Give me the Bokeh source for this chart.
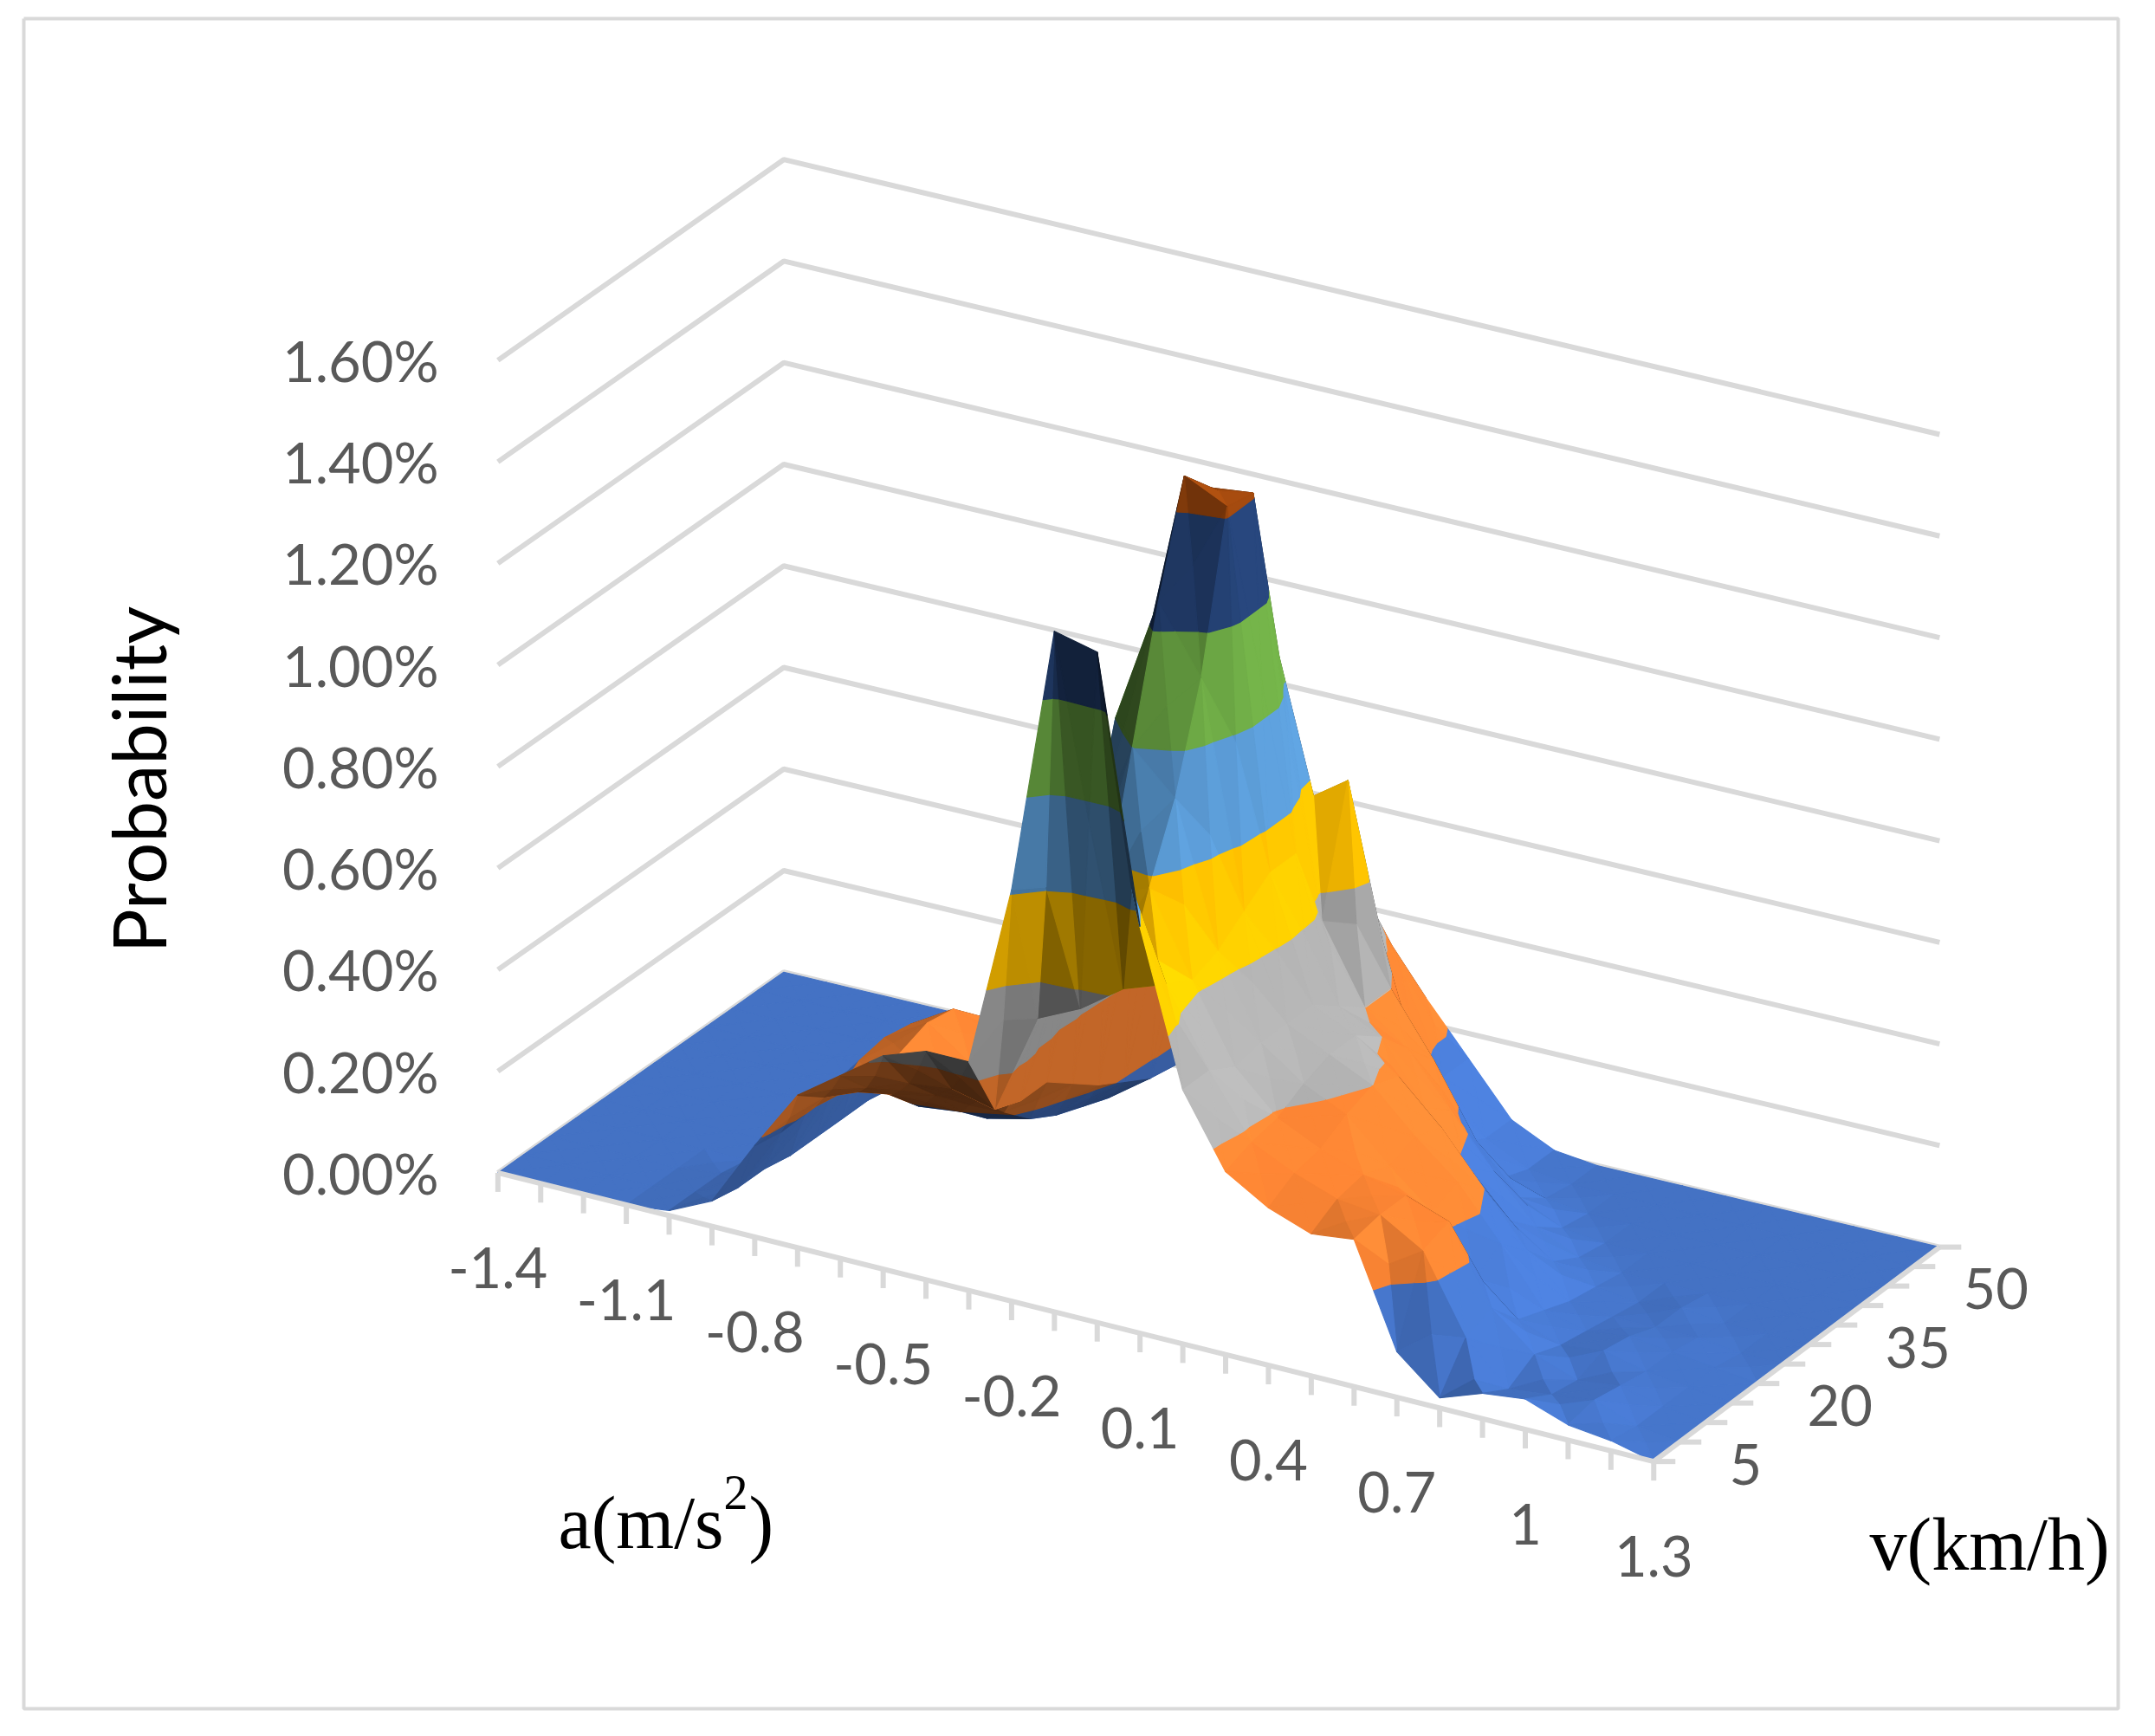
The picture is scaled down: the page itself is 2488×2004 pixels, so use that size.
import math
from bokeh.plotting import figure
from bokeh.models import Range1d, ColumnDataSource
from bokeh.embed import file_html
from bokeh.resources import INLINE
from bokeh.core.properties import value

# ---------------- data ----------------
a_labels = ["-1.4", "-1.3", "-1.2", "-1.1", "-1", "-0.9", "-0.8", "-0.7", "-0.6", "-0.5",
            "-0.4", "-0.3", "-0.2", "-0.1", "0", "0.1", "0.2", "0.3", "0.4", "0.5",
            "0.6", "0.7", "0.8", "0.9", "1", "1.1", "1.2", "1.3"]
v_labels = ["5", "10", "15", "20", "25", "30", "35", "40", "45", "50", "55", "60"]
z_labels = ["0.00%", "0.20%", "0.40%", "0.60%", "0.80%", "1.00%", "1.20%", "1.40%", "1.60%"]
z_ticks = [0.0, 0.2, 0.4, 0.6, 0.8, 1.0, 1.2, 1.4, 1.6]

# probability in % for each speed bin (rows) and acceleration bin (columns)
p_v5  = [0.00, 0.00, 0.00, 0.00, 0.01, 0.05, 0.18, 0.30, 0.36, 0.42, 0.45, 0.45, 0.81, 1.34, 1.32, 0.80, 0.50, 0.36, 0.31, 0.28, 0.29, 0.09, 0.02, 0.05, 0.06, 0.03, 0.02, 0.00]
p_v10 = [0.00, 0.00, 0.00, 0.00, 0.01, 0.04, 0.17, 0.26, 0.30, 0.33, 0.34, 0.32, 0.52, 0.56, 0.62, 0.65, 0.50, 0.38, 0.34, 0.31, 0.30, 0.25, 0.10, 0.02, 0.03, 0.04, 0.01, 0.00]
p_v15 = [0.00, 0.00, 0.00, 0.00, 0.01, 0.04, 0.18, 0.24, 0.25, 0.27, 0.28, 0.30, 0.60, 0.75, 0.78, 0.62, 0.47, 0.39, 0.35, 0.32, 0.30, 0.27, 0.12, 0.05, 0.02, 0.03, 0.01, 0.00]
p_v20 = [0.00, 0.00, 0.00, 0.00, 0.00, 0.03, 0.19, 0.22, 0.19, 0.20, 0.22, 0.30, 0.78, 1.00, 0.92, 0.64, 0.48, 0.42, 0.38, 0.30, 0.23, 0.12, 0.06, 0.03, 0.04, 0.02, 0.01, 0.00]
p_v25 = [0.00, 0.00, 0.00, 0.00, 0.00, 0.03, 0.20, 0.24, 0.17, 0.15, 0.17, 0.26, 1.00, 1.25, 1.12, 0.68, 0.48, 0.44, 0.40, 0.32, 0.25, 0.15, 0.04, 0.02, 0.03, 0.02, 0.01, 0.00]
p_v30 = [0.00, 0.00, 0.00, 0.00, 0.00, 0.03, 0.21, 0.26, 0.20, 0.16, 0.14, 0.22, 0.95, 1.46, 1.42, 0.72, 0.48, 0.44, 0.38, 0.30, 0.20, 0.10, 0.02, 0.01, 0.01, 0.01, 0.00, 0.00]
p_v35 = [0.00, 0.00, 0.00, 0.00, 0.00, 0.03, 0.20, 0.25, 0.22, 0.15, 0.12, 0.19, 0.85, 1.40, 1.41, 0.72, 0.44, 0.40, 0.28, 0.18, 0.10, 0.04, 0.01, 0.00, 0.01, 0.00, 0.00, 0.00]
p_v40 = [0.00, 0.00, 0.00, 0.00, 0.00, 0.02, 0.18, 0.20, 0.16, 0.10, 0.10, 0.16, 0.70, 1.00, 1.05, 0.55, 0.40, 0.34, 0.24, 0.14, 0.05, 0.01, 0.00, 0.00, 0.00, 0.00, 0.00, 0.00]
p_v45 = [0.00, 0.00, 0.00, 0.00, 0.00, 0.02, 0.10, 0.14, 0.12, 0.07, 0.10, 0.15, 0.50, 0.66, 0.68, 0.79, 0.40, 0.28, 0.14, 0.05, 0.01, 0.00, 0.00, 0.00, 0.00, 0.00, 0.00, 0.00]
p_v50 = [0.00, 0.00, 0.00, 0.00, 0.00, 0.01, 0.05, 0.08, 0.10, 0.10, 0.13, 0.20, 0.40, 0.55, 0.58, 0.45, 0.22, 0.08, 0.03, 0.01, 0.00, 0.00, 0.00, 0.00, 0.00, 0.00, 0.00, 0.00]
p_v55 = [0.00, 0.00, 0.00, 0.00, 0.00, 0.01, 0.03, 0.06, 0.09, 0.12, 0.14, 0.20, 0.34, 0.45, 0.50, 0.35, 0.15, 0.05, 0.01, 0.00, 0.00, 0.00, 0.00, 0.00, 0.00, 0.00, 0.00, 0.00]
p_v60 = [0.00, 0.00, 0.00, 0.00, 0.00, 0.00, 0.02, 0.04, 0.07, 0.10, 0.12, 0.17, 0.25, 0.32, 0.35, 0.25, 0.15, 0.05, 0.01, 0.00, 0.00, 0.00, 0.00, 0.00, 0.00, 0.00, 0.00, 0.00]

rows = [p_v5, p_v10, p_v15, p_v20, p_v25, p_v30, p_v35, p_v40, p_v45, p_v50, p_v55, p_v60]

band_colors = ["#4472C4", "#ED7D31", "#A5A5A5", "#FFC000", "#5B9BD5", "#70AD47", "#264478", "#9E480E"]

# ---------------- view geometry (pixel layout of the 3-D box) ----------------
S = 2488.0 / 1568.0
FL = (367 * S, 858 * S)
FR = (1208 * S, 1068 * S)
BL = (575 * S, 712 * S)
BR = (1416 * S, 912 * S)
KZ = 369.5 * S          # screen px per 1 %
NI = len(a_labels) - 1
NJ = len(v_labels) - 1
ZW = 11.2               # world units per 1 % (for lighting)
TH = math.radians(30.8)


def floor_xy(i, j):
    u = i / NI
    w = j / NJ
    x = (1 - u) * (1 - w) * FL[0] + u * (1 - w) * FR[0] + (1 - u) * w * BL[0] + u * w * BR[0]
    y = (1 - u) * (1 - w) * FL[1] + u * (1 - w) * FR[1] + (1 - u) * w * BL[1] + u * w * BR[1]
    return x, y


def proj(i, j, z):
    x, y = floor_xy(i, j)
    return x, y - KZ * z


L = (0.7, 0.2, 0.69)
ln = math.sqrt(sum(c * c for c in L))
L = tuple(c / ln for c in L)


def hex_rgb(h):
    return tuple(int(h[k:k + 2], 16) for k in (1, 3, 5))


def shade_color(hexc, f):
    r, g, b = hex_rgb(hexc)
    out = []
    for c in (r, g, b):
        c2 = c * f
        if c2 > 255:
            c2 = 255
        out.append(int(max(0, round(c2))))
    return "#%02x%02x%02x" % tuple(out)


def tri_factor(tri):
    A, B, C = [(t[0], t[1], t[2] * ZW) for t in tri]
    u = (B[0] - A[0], B[1] - A[1], B[2] - A[2])
    v = (C[0] - A[0], C[1] - A[1], C[2] - A[2])
    n = (u[1] * v[2] - u[2] * v[1], u[2] * v[0] - u[0] * v[2], u[0] * v[1] - u[1] * v[0])
    if n[2] < 0:
        n = (-n[0], -n[1], -n[2])
    sp = [proj(*t) for t in tri]
    fp = [floor_xy(t[0], t[1]) for t in tri]

    def area(pts):
        (x1, y1), (x2, y2), (x3, y3) = pts
        return (x2 - x1) * (y3 - y1) - (x3 - x1) * (y2 - y1)
    back = area(sp) * area(fp) < 0
    if back:
        n = (-n[0], -n[1], -n[2])
    nl = math.sqrt(sum(c * c for c in n)) or 1.0
    d = (n[0] * L[0] + n[1] * L[1] + n[2] * L[2]) / nl
    f = max(0.3, min(1.35, 0.64 + 0.52 * d))
    if back:
        f = min(f, 0.82)
    return f


def clip(poly, level, above):
    out = []
    n = len(poly)
    for k in range(n):
        P = poly[k]
        Q = poly[(k + 1) % n]
        pin = P[2] >= level if above else P[2] <= level
        qin = Q[2] >= level if above else Q[2] <= level
        if pin:
            out.append(P)
        if pin != qin:
            t = (level - P[2]) / (Q[2] - P[2])
            out.append((P[0] + t * (Q[0] - P[0]), P[1] + t * (Q[1] - P[1]), level))
    return out


tris = []
for j in range(NJ):
    for i in range(NI):
        c00 = (i, j, rows[j][i])
        c10 = (i + 1, j, rows[j][i + 1])
        c11 = (i + 1, j + 1, rows[j + 1][i + 1])
        c01 = (i, j + 1, rows[j + 1][i])
        m = (i + 0.5, j + 0.5, (c00[2] + c10[2] + c11[2] + c01[2]) / 4.0)
        for tri in ((c00, c10, m), (c10, c11, m), (c11, c01, m), (c01, c00, m)):
            ci = sum(t[0] for t in tri) / 3.0
            cj = sum(t[1] for t in tri) / 3.0
            key = -math.sin(TH) * ci + math.cos(TH) * cj
            tris.append((key, tri))

tris.sort(key=lambda t: -t[0])

xs, ys, cols = [], [], []
for key, tri in tris:
    f = tri_factor(tri)
    for b in range(len(band_colors)):
        poly = list(tri)
        if b > 0:
            poly = clip(poly, 0.2 * b, True)
        if b < len(band_colors) - 1 and len(poly) >= 3:
            poly = clip(poly, 0.2 * (b + 1), False)
        if len(poly) >= 3:
            pts = [proj(*q) for q in poly]
            xs.append([q[0] for q in pts])
            ys.append([q[1] for q in pts])
            cols.append(shade_color(band_colors[b], f))

# ---------------- figure ----------------
W, H = 2472, 1988
p = figure(width=W, height=H, x_range=Range1d(8, 8 + W), y_range=Range1d(8 + H, 8),
           output_backend="svg", toolbar_location=None, min_border=0,
           x_axis_location=None, y_axis_location=None)
p.grid.grid_line_color = None
p.outline_line_color = None
p.background_fill_color = "white"
p.border_fill_color = "white"

GRID = "#D9D9D9"
# chart border
p.multi_line(xs=[[35, 2453, 2453, 35, 35]], ys=[[29, 29, 1980, 1980, 29]], line_color=GRID, line_width=4)

# walls gridlines
wx, wy = [], []
for z in z_ticks:
    x0, y0 = proj(0, 0, z)
    x1, y1 = proj(0, NJ, z)
    x2, y2 = proj(NI, NJ, z)
    wx.append([x0, x1, x2])
    wy.append([y0, y1, y2])
p.multi_line(xs=wx, ys=wy, line_color=GRID, line_width=6)

# surface
src = ColumnDataSource(dict(xs=xs, ys=ys, c=cols))
p.patches(xs="xs", ys="ys", fill_color="c", line_color="c", line_width=1.2, source=src)

# axes lines and ticks
ax, ay = [], []
x0, y0 = proj(0, 0, 0)
x1, y1 = proj(NI, 0, 0)
x2, y2 = proj(NI, NJ, 0)
ax.append([x0, x1, x2])
ay.append([y0, y1, y2])
for i in range(NI + 1):
    x, y = proj(i, 0, 0)
    ax.append([x, x])
    ay.append([y, y + 22])
for j in range(NJ + 1):
    x, y = proj(NI, j, 0)
    ax.append([x, x + 25])
    ay.append([y, y])
p.multi_line(xs=ax, ys=ay, line_color=GRID, line_width=6)

LABEL = "#595959"
FONT = value("Lato")
# z labels
zx = [324 * S] * len(z_ticks)
zy = [proj(0, 0, z)[1] for z in z_ticks]
p.text(x=zx, y=zy, text=z_labels, text_align="right", text_baseline="middle",
       text_font=FONT, text_font_size=value("65px"), text_color=LABEL)
# a labels
axl, ayl, atl = [], [], []
for i in range(0, NI + 1, 3):
    x, y = proj(i, 0, 0)
    axl.append(x)
    ayl.append(y + 69 * S)
    atl.append(a_labels[i])
p.text(x=axl, y=ayl, text=atl, text_align="center", text_baseline="middle",
       text_font=FONT, text_font_size=value("65px"), text_color=LABEL)
# v labels
vxl, vyl, vtl = [], [], []
for j in range(0, NJ + 1, 3):
    x, y = proj(NI, j, 0)
    vxl.append(x + 55 * S)
    vyl.append(y + 2 * S)
    vtl.append(v_labels[j])
p.text(x=vxl, y=vyl, text=vtl, text_align="left", text_baseline="middle",
       text_font=FONT, text_font_size=value("65px"), text_color=LABEL)

# axis titles
p.text(x=[105 * S], y=[572 * S], text=["Probability"], angle=math.pi / 2,
       text_align="center", text_baseline="middle", text_font=FONT,
       text_font_size=value("85px"), text_color="#000000")
SERIF = value("Liberation Serif")
p.text(x=[652], y=[1765], text=["a(m/s"], text_align="left", text_baseline="alphabetic",
       text_font=SERIF, text_font_size=value("86px"), text_color="#000000")
p.text(x=[843], y=[1730], text=["2"], text_align="left", text_baseline="alphabetic",
       text_font=SERIF, text_font_size=value("56px"), text_color="#000000")
p.text(x=[872], y=[1765], text=[")"], text_align="left", text_baseline="alphabetic",
       text_font=SERIF, text_font_size=value("86px"), text_color="#000000")
p.text(x=[2166], y=[1790], text=["v(km/h)"], text_align="left", text_baseline="alphabetic",
       text_font=SERIF, text_font_size=value("86px"), text_color="#000000")

open("out.html", "w").write(file_html(p, INLINE))
